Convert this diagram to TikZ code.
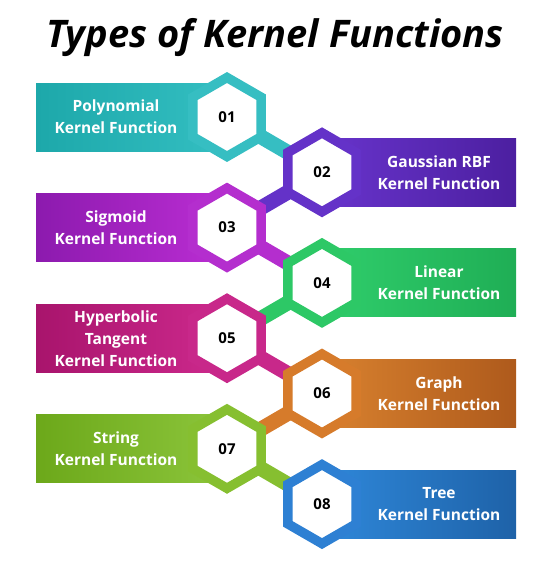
\documentclass[tikz,border=0pt]{standalone}
\usepackage{fontspec}
\setmainfont{Open Sans}
\usetikzlibrary{shapes.geometric}
\usetikzlibrary{backgrounds}

\definecolor{tealL}{HTML}{1DA8AA}
\definecolor{tealR}{HTML}{34BFC2}
\definecolor{tealH}{HTML}{36BEC2}
\definecolor{purpL}{HTML}{6834CC}
\definecolor{purpR}{HTML}{4C1FA0}
\definecolor{purpH}{HTML}{6432C8}
\definecolor{violL}{HTML}{8C1AAE}
\definecolor{violR}{HTML}{BC2ED4}
\definecolor{violH}{HTML}{B42ECE}
\definecolor{grenL}{HTML}{30CE6C}
\definecolor{grenR}{HTML}{1FAE55}
\definecolor{grenH}{HTML}{2DC866}
\definecolor{pinkL}{HTML}{A8146C}
\definecolor{pinkR}{HTML}{CE2A8E}
\definecolor{pinkH}{HTML}{C8288A}
\definecolor{orngL}{HTML}{D9822F}
\definecolor{orngR}{HTML}{AE5A1C}
\definecolor{orngH}{HTML}{D67B2B}
\definecolor{limeL}{HTML}{6CA81A}
\definecolor{limeR}{HTML}{8DC63C}
\definecolor{limeH}{HTML}{86BF30}
\definecolor{blueL}{HTML}{2F88DA}
\definecolor{blueR}{HTML}{1E62A8}
\definecolor{blueH}{HTML}{2E80D3}

\begin{document}
\begin{tikzpicture}[x=1pt, y=-1pt,
        hexa/.style={regular polygon, regular polygon sides=6, shape border rotate=30,
            minimum size=79pt, inner sep=0pt, line width=9.5pt, fill=white,
            font=\bfseries\fontsize{15}{15}\selectfont},
        link/.style={line width=15pt},
        lbl/.style={text=white, align=center, font=\bfseries\fontsize{15.5}{22}\selectfont}]
            \useasboundingbox (0,0) rectangle (550,568);

            \node[font=\bfseries\itshape\fontsize{38}{38}\selectfont] (title) at (275,38) {Types of Kernel Functions};

            % hexagons
            \node[hexa, draw=tealH] (h1) at (227,117) {01};
            \node[hexa, draw=purpH] (h2) at (322,172.3) {02};
            \node[hexa, draw=violH] (h3) at (227,227.6) {03};
            \node[hexa, draw=grenH] (h4) at (322,282.9) {04};
            \node[hexa, draw=pinkH] (h5) at (227,338.2) {05};
            \node[hexa, draw=orngH] (h6) at (322,393.5) {06};
            \node[hexa, draw=limeH] (h7) at (227,448.8) {07};
            \node[hexa, draw=blueH] (h8) at (322,504.1) {08};

            \begin{pgfonlayer}{background}
                % bands
                \fill[left color=tealL, right color=tealR] (36,83) rectangle (230,151);
                \fill[left color=purpL, right color=purpR] (320,138.3) rectangle (516,206.3);
                \fill[left color=violL, right color=violR] (36,193.6) rectangle (230,261.6);
                \fill[left color=grenL, right color=grenR] (320,248.9) rectangle (516,316.9);
                \fill[left color=pinkL, right color=pinkR] (36,304.2) rectangle (230,372.2);
                \fill[left color=orngL, right color=orngR] (320,359.5) rectangle (516,427.5);
                \fill[left color=limeL, right color=limeR] (36,414.8) rectangle (230,482.8);
                \fill[left color=blueL, right color=blueR] (320,470.1) rectangle (516,538.1);

                % links
                \draw[link, draw=tealH] (h1.center) -- (h2.center);
                \draw[link, draw=purpH] (h2.center) -- (h3.center);
                \draw[link, draw=violH] (h3.center) -- (h4.center);
                \draw[link, draw=grenH] (h4.center) -- (h5.center);
                \draw[link, draw=pinkH] (h5.center) -- (h6.center);
                \draw[link, draw=orngH] (h6.center) -- (h7.center);
                \draw[link, draw=limeH] (h7.center) -- (h8.center);
            \end{pgfonlayer}

            % labels
            \node[lbl] (t1) at (116,117) {Polynomial\\Kernel Function};
            \node[lbl] (t2) at (439,172.3) {Gaussian RBF\\Kernel Function};
            \node[lbl] (t3) at (116,227.6) {Sigmoid\\Kernel Function};
            \node[lbl] (t4) at (439,282.9) {Linear\\Kernel Function};
            \node[lbl] (t5) at (116,338.2) {Hyperbolic\\Tangent\\Kernel Function};
            \node[lbl] (t6) at (439,393.5) {Graph\\Kernel Function};
            \node[lbl] (t7) at (116,448.8) {String\\Kernel Function};
            \node[lbl] (t8) at (439,504.1) {Tree\\Kernel Function};

        \end{tikzpicture}
\end{document}
